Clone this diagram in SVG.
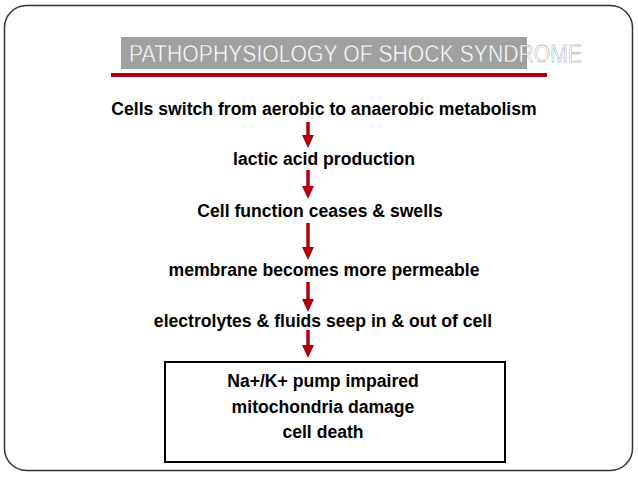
<svg xmlns="http://www.w3.org/2000/svg" width="638" height="479" viewBox="0 0 638 479">
<style>
.t{font-family:"Liberation Sans",Arial,sans-serif;font-weight:bold;font-size:17.6px;fill:#000;text-anchor:middle}
.title{font-family:"Liberation Sans",Arial,sans-serif;font-size:23px;fill:#fff;stroke:#8a8a8a;stroke-width:0.4}
.arr{stroke:#b3000f;stroke-width:3.5;fill:none}
.head{fill:#b3000f}
</style>
<rect width="638" height="479" fill="#fff"/>
<rect x="4.5" y="5.5" width="628" height="465" rx="22" ry="22" fill="none" stroke="#333" stroke-width="1.5"/>
<g id="title">
<rect x="121" y="37" width="406" height="32" fill="#a0a0a0"/>
<rect x="111" y="73" width="436" height="4" fill="#b0000f"/>
<text class="title" x="129" y="62" textLength="453" lengthAdjust="spacingAndGlyphs">PATHOPHYSIOLOGY OF SHOCK SYNDROME</text>
</g>
<g id="n1"><text class="t" x="324" y="115">Cells switch from aerobic to anaerobic metabolism</text></g>
<g id="n2"><text class="t" x="324" y="165">lactic acid production</text></g>
<g id="n3"><text class="t" x="320" y="217">Cell function ceases &amp; swells</text></g>
<g id="n4"><text class="t" x="324" y="276">membrane becomes more permeable</text></g>
<g id="n5"><text class="t" x="323" y="327">electrolytes &amp; fluids seep in &amp; out of cell</text></g>
<g id="n6">
<rect x="165" y="362" width="340" height="100" fill="#fff" stroke="#000" stroke-width="2"/>
<text class="t" x="323" y="387">Na+/K+ pump impaired</text>
<text class="t" x="323" y="413">mitochondria damage</text>
<text class="t" x="323" y="438">cell death</text>
</g>
<g id="connectors">
<line class="arr" x1="308" y1="122" x2="308" y2="136"/>
<polygon class="head" points="302,135 314,135 308,148"/>
<line class="arr" x1="308" y1="170" x2="308" y2="187"/>
<polygon class="head" points="302,186 314,186 308,199"/>
<line class="arr" x1="308" y1="223" x2="308" y2="248"/>
<polygon class="head" points="302,247 314,247 308,260"/>
<line class="arr" x1="308" y1="282" x2="308" y2="300"/>
<polygon class="head" points="302,299 314,299 308,312"/>
<line class="arr" x1="308" y1="330" x2="308" y2="346"/>
<polygon class="head" points="302,345 314,345 308,358"/>
</g>
</svg>
